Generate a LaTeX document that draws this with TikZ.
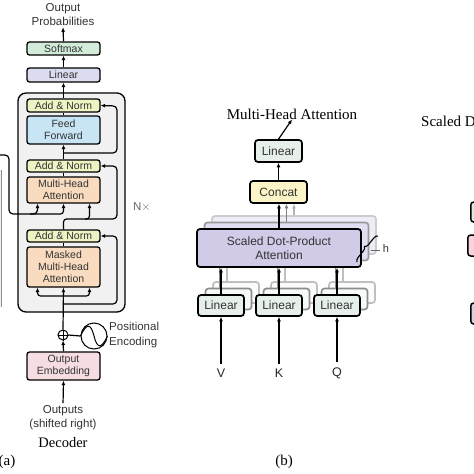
\documentclass[tikz,border=0pt]{standalone}
\usepackage{fontspec}
\setmainfont{Liberation Serif}
\setsansfont{Liberation Sans}
\usetikzlibrary{arrows.meta,decorations.pathreplacing,calc}
\definecolor{csoft}{HTML}{D3EBD9}
\definecolor{clin}{HTML}{DCDCF0}
\definecolor{cadd}{HTML}{EEF3C4}
\definecolor{cff}{HTML}{C7E5F4}
\definecolor{cmha}{HTML}{F9DCBF}
\definecolor{cemb}{HTML}{F6DDE2}
\definecolor{cgraybox}{HTML}{F1F1F1}
\definecolor{cblin}{HTML}{E7EFEB}
\definecolor{ccat}{HTML}{FAF4C6}
\definecolor{csdpa}{HTML}{D1CBE8}
\definecolor{csdpaB}{HTML}{E2DEF1}
\definecolor{csdpaC}{HTML}{EEECF6}
\definecolor{cpink}{HTML}{F6D3DF}
\definecolor{cmm}{HTML}{D4D2E6}
\definecolor{cgg}{HTML}{DFE7E1}
\begin{document}
\begin{tikzpicture}[x=1pt,y=-1pt,
  dbox/.style={draw, line width=1.3pt, rounded corners=2.5pt, inner sep=0pt,
    minimum width=73pt, align=center, text=black!80,
    font=\sffamily\fontsize{10.5}{12.2}\selectfont},
  bbox/.style={draw, line width=1.7pt, rounded corners=3pt, inner sep=0pt,
    align=center, text=black!80, font=\sffamily\fontsize{12}{14}\selectfont},
  ghostA/.style={bbox, draw=black!45, fill=white!60!cblin},
  ghostB/.style={bbox, draw=black!25, fill=white!80!cblin},
  arr/.style={line width=1.2pt, -{Latex[length=4.5pt,width=4pt]}},
  ln/.style={line width=1.2pt},
  lbl/.style={font=\sffamily\fontsize{11.5}{14}\selectfont, text=black!80, align=center, inner sep=0pt},
  ttl/.style={font=\fontsize{15}{17}\selectfont, inner sep=0pt}
]
\useasboundingbox (0,0) rectangle (474,474);

% ---------------- (a) decoder ----------------
% encoder box (cut off at left)
\fill[cgraybox] (-20,170) rectangle (1.5,307);
\draw[black!45, line width=0.8pt] (1.5,170) -- (1.5,307);

% big N x box
\draw[fill=cgraybox, line width=1.3pt, rounded corners=8pt] (18,93) rectangle (125,312);
\node[lbl, text=black!60] (nx) at (142,207) {N$\times$};

\node[lbl] (outprob) at (63,15) {Output\\Probabilities};
\node[dbox, fill=csoft, minimum height=13pt] (soft) at (63.5,48.5) {Softmax};
\node[dbox, fill=clin, minimum height=14pt] (lin) at (63.5,75) {Linear};
\node[dbox, fill=cadd, minimum height=13pt] (an1) at (63.5,105.5) {Add \& Norm};
\node[dbox, fill=cff, minimum height=28pt] (ff) at (63.5,130) {Feed\\Forward};
\node[dbox, fill=cadd, minimum height=12pt] (an2) at (63.5,166) {Add \& Norm};
\node[dbox, fill=cmha, minimum height=26pt] (mha) at (63.5,190) {Multi-Head\\Attention};
\node[dbox, fill=cadd, minimum height=12pt] (an3) at (63.5,236) {Add \& Norm};
\node[dbox, fill=cmha, minimum height=40pt] (mmha) at (63.5,267) {Masked\\Multi-Head\\Attention};
\node[dbox, fill=cemb, minimum height=28pt] (emb) at (63.5,366) {Output\\Embedding};

\node[draw, circle, line width=1pt, minimum size=10pt, inner sep=0pt] (plus) at (63,335) {};
\draw[line width=0.9pt] (plus.north) -- (plus.south) (plus.west) -- (plus.east);
\node[draw, circle, line width=1pt, minimum size=26pt, inner sep=0pt] (pe) at (94,336) {};
\draw[line width=1pt] (pe.west) .. controls (87,322) and (91,324) .. (pe.center)
   .. controls (97,348) and (101,350) .. (pe.east);
\draw[ln] (plus.east) -- (pe.west);
\node[lbl, align=left, anchor=west, font=\sffamily\fontsize{11.5}{15}\selectfont] (pelbl) at (109,335.5) {Positional\\Encoding};

\node[lbl] (outs) at (63,417.5) {Outputs\\(shifted right)};
\node[ttl, font=\fontsize{14.5}{17}\selectfont] (dec) at (63,443) {Decoder};
\node[ttl, anchor=west] (la) at (-1.5,462) {(a)};

% connectors
\draw[arr, shorten <=2pt] (outs.north) -- (emb.south);
\draw[arr] (emb.north) -- (plus.south);
\draw[arr] (plus.north) -- (mmha.south);
\draw[arr, rounded corners=3pt] (63,296) -| ([xshift=-26pt]mmha.south);
\draw[arr, rounded corners=3pt] (63,296) -| ([xshift=26pt]mmha.south);
\draw[arr, rounded corners=4pt] (63,304) -| (117,236) -- (an3.east);
\draw[ln] (mmha.north) -- (an3.south);
\draw[arr, rounded corners=3pt] (an3.north) |- (80,219) -| ([xshift=26pt]mha.south);
\draw[arr, rounded corners=4pt] (85,219) -| (117,166) -- (an2.east);
\draw[arr, rounded corners=4pt] (-5,155) -| (9,214) -| ([xshift=-26pt]mha.south);
\draw[arr, rounded corners=3pt] (30,214) -| (mha.south);
\draw[ln] (mha.north) -- (an2.south);
\draw[arr] (an2.north) -- (ff.south);
\draw[arr, rounded corners=4pt] (63,153) -| (117,106) -- (an1.east);
\draw[ln] (ff.north) -- (an1.south);
\draw[arr] (an1.north) -- (lin.south);
\draw[arr] (lin.north) -- (soft.south);
\draw[arr, shorten >=1pt] (soft.north) -- (outprob.south);

% ---------------- (b) multi-head attention ----------------
\node[ttl] (mhat) at (292,114) {Multi-Head Attention};
\node[bbox, fill=cblin, minimum width=47pt, minimum height=22pt] (blin) at (278.5,151) {Linear};
\node[bbox, fill=ccat, minimum width=57pt, minimum height=22pt] (cat) at (278.5,192) {Concat};

% SDPA stack
\node[bbox, draw=black!20, fill=csdpaC, minimum width=164pt, minimum height=38pt] (sd3) at (294,235) {};
\node[bbox, draw=black!40, fill=csdpaB, minimum width=164pt, minimum height=38pt] (sd2) at (286.5,241.5) {};

% linear stacks (ghosts)
\foreach \nm/\cx in {V/221,K/279,Q/337}{
  \node[ghostB, minimum width=46pt, minimum height=21pt] (l\nm3) at (\cx+15,292.5) {};
  \node[ghostA, minimum width=46pt, minimum height=21pt] (l\nm2) at (\cx+7.5,299) {};
}
\foreach \nm/\cx in {V/221,K/279,Q/337}{
  \draw[line width=1.1pt, black!25] (l\nm3.north) ++(-9,0) -- ++(0,-20);
  \draw[line width=1.1pt, black!45] (l\nm2.north) ++(-9,0) -- ++(0,-26);
}
\node[bbox, fill=csdpa, minimum width=164pt, minimum height=38pt] (sd) at (279,248) {Scaled Dot-Product\\Attention};
\foreach \nm/\cx in {V/221,K/279,Q/337}{
  \node[bbox, fill=cblin, minimum width=46pt, minimum height=21pt] (l\nm) at (\cx,305.5) {Linear};
  \node[font=\sffamily\fontsize{12.5}{14}\selectfont, text=black!85, inner sep=0pt] (in\nm) at (\cx,373) {\nm};
  \draw[arr, shorten <=5pt] (in\nm.north) -- (l\nm.south);
  \draw[arr] (l\nm.north) -- (l\nm.north |- sd.south);
}
\draw[arr] (sd.north) -- (sd.north |- cat.south);
\draw[arr, black!50] (sd2.north) -- (sd2.north |- cat.south);
\draw[arr, black!30] (sd3.north) -- (sd3.north |- cat.south);
\draw[arr] (cat.north) -- (blin.south);
\draw[arr] (blin.north) -- (mhat.south);

% h brace
\draw[line width=1.1pt, decorate, decoration={brace, amplitude=4pt}] (357,262) -- (378,236);
\draw[line width=0.8pt, black!60] (371,250) -- (380,250);
\node[lbl, font=\sffamily\fontsize{11}{13}\selectfont] (hlbl) at (386,249) {h};

\node[ttl] (lb) at (284,462) {(b)};

% ---------------- (c) partial ----------------
\node[ttl, anchor=west] (sdt) at (421,121) {Scaled Dot-Product Attention};
\node[bbox, fill=cgg, minimum width=50pt, minimum height=20pt, anchor=west, line width=1.5pt] (c1) at (470,212) {};
\node[bbox, fill=cpink, minimum width=50pt, minimum height=21pt, anchor=west, line width=1.5pt] (c2) at (467,245.5) {};
\node[bbox, fill=cmm, minimum width=50pt, minimum height=21pt, anchor=west, line width=1.5pt] (c3) at (470,313.5) {};
\end{tikzpicture}
\end{document}
